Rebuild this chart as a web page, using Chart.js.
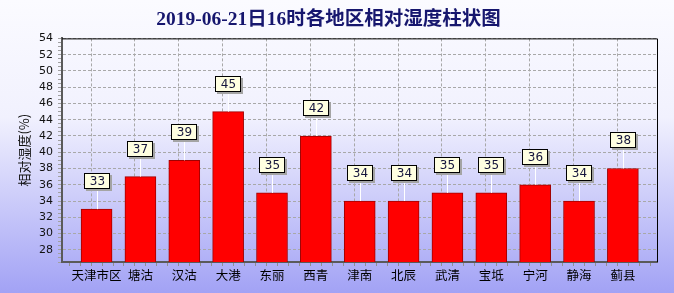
<!DOCTYPE html>
<html>
<head>
<meta charset="utf-8">
<script src="https://cdn.jsdelivr.net/npm/chart.js@4"></script>
<style>
    html, body { margin: 0; padding: 0; }
    #wrap { width: 674px; height: 293px; position: relative; }
</style>
</head>
<body>
<div id="wrap"><canvas id="humChart"></canvas></div>
<script>
const stations = ["天津市区", "塘沽", "汉沽", "大港", "东丽", "西青", "津南", "北辰", "武清", "宝坻", "宁河", "静海", "蓟县"];
const humidity = [33, 37, 39, 45, 35, 42, 34, 34, 35, 35, 36, 34, 38];
const yMin = 26.5;
const yMax = 54;
const yLabelStep = 2;   // labelled ticks: 28, 30 ... 54
const yLabelFrom = 28;
const chartTitle = "2019-06-21日16时各地区相对湿度柱状图";
const yTitle = "相对湿度(%)";

const isWhole = v => Math.abs(v - Math.round(v)) < 1e-6;

// page background: near white at top, lavender at the bottom
const bgPlugin = {
    id: "bg",
    beforeDraw(chart) {
        const ctx = chart.ctx;
        const g = ctx.createLinearGradient(0, 0, 0, chart.height);
        g.addColorStop(0, "#fbfbff");
        g.addColorStop(0.4, "#f1f1fe");
        g.addColorStop(1, "#a2a2f5");
        ctx.save();
        ctx.fillStyle = g;
        ctx.fillRect(0, 0, chart.width, chart.height);
        ctx.restore();
    }
};

// thin black frame on top and right of plot
const framePlugin = {
    id: "frame",
    beforeDatasetsDraw(chart) {
        const { ctx, chartArea: a } = chart;
        ctx.save();
        ctx.strokeStyle = "#000";
        ctx.lineWidth = 1;
        ctx.beginPath();
        ctx.moveTo(a.left, a.top + 0.5);
        ctx.lineTo(a.right + 0.5, a.top + 0.5);
        ctx.lineTo(a.right + 0.5, a.bottom);
        ctx.stroke();
        ctx.restore();
    }
};

// value boxes above the bars
const boxPlugin = {
    id: "boxes",
    afterDatasetsDraw(chart) {
        const ctx = chart.ctx;
        const meta = chart.getDatasetMeta(0);
        ctx.save();
        ctx.font = "12px 'DejaVu Sans'";
        ctx.textAlign = "center";
        ctx.textBaseline = "middle";
        meta.data.forEach((bar, i) => {
            const x = Math.round(bar.x);
            const top = bar.y;
            const cy = Math.round(top - 28);
            const txt = String(humidity[i]);
            const w = Math.round(ctx.measureText(txt).width + 11);
            const h = 16;
            const bx = x - Math.round(w / 2);
            const by = cy - h / 2;

            ctx.strokeStyle = "#ffffff";
            ctx.lineWidth = 1;
            ctx.beginPath();
            ctx.moveTo(x + 0.5, by + h);
            ctx.lineTo(x + 0.5, top);
            ctx.stroke();

            ctx.fillStyle = "#a4a4a4";
            ctx.fillRect(bx + 2, by + 2, w, h);
            ctx.fillStyle = "#ffffe1";
            ctx.fillRect(bx, by, w, h);
            ctx.strokeStyle = "#000";
            ctx.strokeRect(bx + 0.5, by + 0.5, w - 1, h - 1);

            ctx.fillStyle = "#14143c";
            ctx.fillText(txt, x + 0.5, cy + 1);
        });
        ctx.restore();
    }
};

const ctx = document.getElementById("humChart").getContext("2d");
new Chart(ctx, {
    type: "bar",
    data: {
        datasets: [{
            data: humidity.map((v, i) => ({ x: i, y: v })),
            backgroundColor: "#ff0000",
            borderColor: "#a00000",
            borderWidth: 1,
            borderSkipped: "bottom",
            barThickness: 31
        }]
    },
    options: {
        responsive: true,
        maintainAspectRatio: false,
        animation: false,
        layout: { padding: { left: 0, right: 17, top: 0, bottom: 8 } },
        plugins: {
            legend: { display: false },
            tooltip: { enabled: false },
            title: {
                display: true,
                text: chartTitle,
                color: "#16166e",
                font: { family: "'Liberation Serif', 'Noto Sans CJK SC'", size: 19.5, weight: "bold" },
                padding: { top: 8, bottom: 7 }
            }
        },
        scales: {
            x: {
                type: "linear",
                min: -0.66,
                max: 12.65,
                grid: {
                    color: c => (c.tick && isWhole(c.tick.value)) ? "#a8a8a8" : "rgba(0,0,0,0)",
                    tickColor: "#909090",
                    tickLength: 4,
                    lineWidth: 1
                },
                border: { display: true, color: "#5a5a5a", width: 2, dash: [3, 2] },
                ticks: {
                    stepSize: 0.25,
                    includeBounds: false,
                    autoSkip: false,
                    maxRotation: 0,
                    padding: 2,
                    color: "#000",
                    font: { family: "'Noto Sans CJK SC'", size: 12.5 },
                    callback: v => isWhole(v) ? stations[Math.round(v)] : ""
                }
            },
            y: {
                min: yMin,
                max: yMax,
                afterFit: s => { s.width = 62; },
                grid: {
                    color: c => (c.tick && isWhole(c.tick.value / yLabelStep) && c.tick.value >= yLabelFrom) ? "#a8a8a8" : "rgba(0,0,0,0)",
                    tickColor: "#a0a0a0",
                    tickLength: 4,
                    lineWidth: 1
                },
                border: { display: true, color: "#5a5a5a", width: 2, dash: [3, 2] },
                ticks: {
                    stepSize: 0.5,
                    includeBounds: false,
                    autoSkip: false,
                    padding: 5,
                    color: "#111",
                    font: { family: "'DejaVu Sans'", size: 11 },
                    callback: v => (isWhole(v / yLabelStep) && v >= yLabelFrom) ? String(v) : ""
                },
                title: {
                    display: true,
                    text: yTitle,
                    color: "#111",
                    font: { family: "'Noto Sans CJK SC'", size: 13 },
                    padding: { top: 16, bottom: 0 }
                }
            }
        }
    },
    plugins: [bgPlugin, framePlugin, boxPlugin]
});
</script>
</body>
</html>
